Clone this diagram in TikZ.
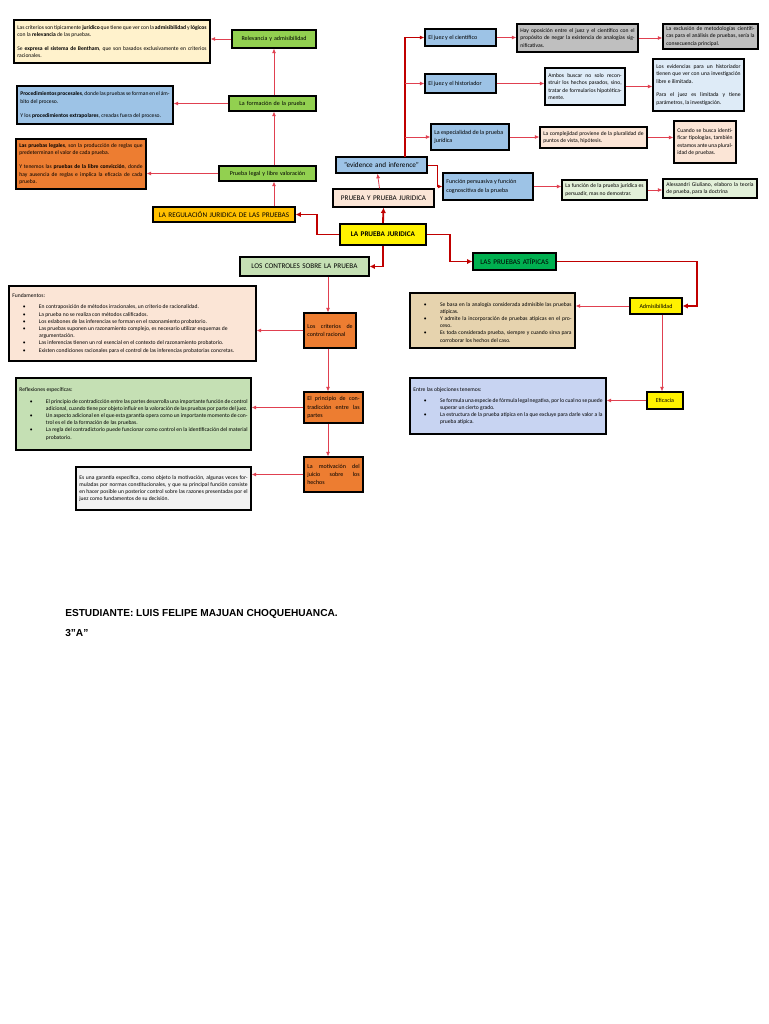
\documentclass[tikz,border=0pt]{standalone}
\usepackage{fontspec}
\setmainfont{Carlito}
\newfontfamily\arialf{Liberation Sans}
\usetikzlibrary{arrows.meta}
\definecolor{lred}{HTML}{E04050}
\definecolor{dred}{HTML}{C00000}
\definecolor{cream}{HTML}{FFF2CC}
\definecolor{gr}{HTML}{92D050}
\definecolor{bl}{HTML}{9DC3E6}
\definecolor{lbl}{HTML}{DEEBF7}
\definecolor{org}{HTML}{ED7D31}
\definecolor{gold}{HTML}{FFC000}
\definecolor{peach}{HTML}{FBE5D6}
\definecolor{lgr}{HTML}{C5E0B4}
\definecolor{vlgr}{HTML}{E2F0D9}
\definecolor{dgr}{HTML}{00B050}
\definecolor{gry}{HTML}{BFBFBF}
\definecolor{wgry}{HTML}{F2F2F2}
\definecolor{parch}{HTML}{E6D3AE}
\definecolor{lila}{HTML}{C8D4F2}
\newcommand\bx[7]{\pgfmathsetmacro\bw{(#4-#2)*0.75}\pgfmathsetmacro\bh{(#5-#3)*0.75}\pgfmathsetmacro\tw{(#4-#2)*0.75-5}%
\node[#6,minimum width=\bw pt,minimum height=\bh pt,text width=\tw pt] (#1) at ({(#2+#4)/2},{(#3+#5)/2}) {#7};}
\newcommand\itm[1]{\par{\leftskip=20pt\noindent\llap{\textbullet\hspace{10pt}}#1\par}}
\tikzset{
 bbox/.style={draw,line width=0.8pt,inner xsep=2.5pt,inner ysep=1pt,font=\fontsize{4.2}{5.4}\selectfont,align=justify},
 lbl/.style={draw,line width=0.8pt,inner xsep=2.5pt,inner ysep=1pt,font=\fontsize{4.5}{6.2}\selectfont,align=center},
 big/.style={draw,line width=0.9pt,inner xsep=2.5pt,inner ysep=1pt,font=\fontsize{5.4}{6.5}\selectfont,align=center},
 thin/.style={lred,line width=0.6pt,-{Latex[length=3.5pt,width=3pt]}},
 thick/.style={dred,line width=1.4pt,-{Latex[length=4pt,width=4pt]}},
}
\begin{document}
\begin{tikzpicture}[x=0.75pt,y=-0.75pt]
\useasboundingbox[fill=white] (0,0) rectangle (768,1024);
% left column top
\bx{A}{14}{20}{210}{63}{bbox,fill=cream}{Las criterios son típicamente \textbf{jurídico} que tiene que ver con la \textbf{admisibilidad} y \textbf{lógicos} con la \textbf{relevancia} de las pruebas.\par\vspace{5pt}Se \textbf{expresa el sistema de Bentham}, que son basados exclusivamente en criterios racionales.}
\bx{rel}{232}{30}{316}{48}{lbl,fill=gr}{Relevancia y admisibilidad}
\bx{B}{17}{86}{173}{124}{bbox,fill=bl}{\textbf{Procedimientos procesales}, donde las pruebas se forman en el ámbito del proceso.\par\vspace{5pt}Y los \textbf{procedimientos extrapolares}, creadas fuera del proceso.}
\bx{form}{229}{96}{316}{111}{lbl,fill=gr}{La formación de la prueba}
\bx{C}{16}{139}{146}{189}{bbox,fill=org}{\textbf{Las pruebas legales}, son la producción de reglas que predeterminan el valor de cada prueba.\par\vspace{5pt}Y tenemos las \textbf{pruebas de la libre convicción}, donde hay ausencia de reglas e implica la eficacia de cada prueba.}
\bx{leg}{219}{166}{316}{181}{lbl,fill=gr}{Prueba legal y libre valoración}
\bx{reg}{153}{207}{295}{222}{big,fill=gold}{LA REGULACIÓN JURIDICA DE LAS PRUEBAS}
% center
\bx{pyp}{333}{189}{434}{207}{big,fill=peach}{PRUEBA Y PRUEBA JURIDICA}
\bx{evi}{336}{157}{427}{173}{big,fill=bl}{"evidence and inference"}
\bx{pj}{340}{224}{426}{245}{big,fill=yellow,line width=1.6pt}{\textbf{LA PRUEBA JURIDICA}}
\bx{ctl}{240}{257}{369}{276}{big,fill=lgr}{LOS CONTROLES SOBRE LA PRUEBA}
\bx{ati}{473}{253}{556}{270}{big,fill=dgr}{LAS PRUEBAS ATÍPICAS}
% right top
\bx{jc}{425}{29}{496}{46}{lbl,fill=bl,align=flush left}{El juez y el científico}
\bx{jc2}{517}{24}{638}{52}{bbox,fill=gry}{Hay oposición entre el juez y el científico con el propósito de negar la existencia de analogías significativas.}
\bx{jc3}{663}{24}{758}{49}{bbox,fill=gry}{La exclusión de metodologías científicas para el análisis de pruebas, sería la consecuencia principal.}
\bx{jh}{425}{74}{496}{93}{lbl,fill=bl,align=flush left}{El juez y el historiador}
\bx{jh2}{545}{68}{625}{105}{bbox,fill=lbl}{Ambos buscar no solo reconstruir los hechos pasados, sino, tratar de formularios hipotéticamente.}
\bx{jh3}{653}{59}{744}{111}{bbox,fill=lbl}{Los evidencias para un historiador tienen que ver con una investigación libre e ilimitada.\par\vspace{5pt}Para el juez es limitada y tiene parámetros, la investigación.}
\bx{es}{431}{124}{509}{150}{lbl,fill=bl,align=flush left}{La especialidad de la prueba jurídica}
\bx{es2}{540}{127}{647}{148}{bbox,fill=peach}{La complejidad proviene de la pluralidad de puntos de vista, hipótesis.}
\bx{es3}{674}{121}{736}{163}{bbox,fill=peach}{Cuando se busca identificar tipologías, también estamos ante una pluralidad de pruebas.}
\bx{fp}{443}{173}{533}{200}{lbl,fill=bl,align=flush left}{Función persuasiva y función cognoscitiva de la prueba}
\bx{fp2}{562}{180}{647}{200}{bbox,fill=vlgr}{La función de la prueba jurídica es persuadir, mas no demostrar.}
\bx{fp3}{663}{179}{757}{198}{bbox,fill=vlgr}{Alessandri Giuliano, elaboro la teoría de prueba, para la doctrina}
% controls
\bx{fun}{9}{286}{256}{361}{bbox,fill=peach,align=flush left}{Fundamentos:\par\vspace{3pt}
\itm{En contraposición de métodos irracionales, un criterio de racionalidad.}
\itm{La prueba no se realiza con métodos calificados.}
\itm{Los eslabones de las inferencias se forman en el razonamiento probatorio.}
\itm{Las pruebas suponen un razonamiento complejo, es necesario utilizar esquemas de argumentación.}
\itm{Las inferencias tienen un rol esencial en el contexto del razonamiento probatorio.}
\itm{Existen condiciones racionales para el control de las inferencias probatorias concretas.}}
\bx{cri}{304}{313}{356}{348}{lbl,fill=org,align=justify}{Los criterios de control racional}
\bx{ref}{16}{378}{251}{450}{bbox,fill=lgr}{Reflexiones específicas:\par\vspace{3pt}
\itm{El principio de contradicción entre las partes desarrolla una importante función de control adicional, cuando tiene por objeto influir en la valoración de las pruebas por parte del juez.}
\itm{Un aspecto adicional en el que esta garantía opera como un importante momento de control es el de la formación de las pruebas.}
\itm{La regla del contradictorio puede funcionar como control en la identificación del material probatorio.}}
\bx{pri}{304}{392}{363}{423}{lbl,fill=org,align=justify}{El principio de contradicción entre las partes}
\bx{gar}{76}{467}{251}{510}{bbox,fill=wgry}{Es una garantía específica, como objeto la motivación, algunas veces formuladas por normas constitucionales, y que su principal función consiste en hacer posible un posterior control sobre las razones presentadas por el juez como fundamentos de su decisión.\par\vspace{4pt}}
\bx{mot}{304}{457}{363}{492}{lbl,fill=org,align=justify}{La motivación del juicio sobre los hechos}
% atipicas
\bx{sb}{410}{293}{575}{348}{bbox,fill=parch}{\itm{Se basa en la analogía considerada admisible las pruebas atípicas.}
\itm{Y admite la incorporación de pruebas atípicas en el proceso.}
\itm{Es toda considerada prueba, siempre y cuando sirva para corroborar los hechos del caso.}}
\bx{adm}{630}{298}{682}{314}{lbl,fill=yellow}{Admisibilidad}
\bx{obj}{410}{378}{606}{434}{bbox,fill=lila}{Entre las objeciones tenemos:\par\vspace{3pt}
\itm{Se formula una especie de fórmula legal negativa, por lo cual no se puede superar un cierto grado.}
\itm{La estructura de la prueba atípica en la que excluye para darle valor a la prueba atípica.}\par\vspace{3pt}}
\bx{efi}{647}{392}{683}{409}{lbl,fill=yellow}{Eficacia}
% bottom text
\node[anchor=west,font=\arialf\bfseries\fontsize{7.6}{9}\selectfont,inner sep=0] (stu) at (65,614) {ESTUDIANTE: LUIS FELIPE MAJUAN CHOQUEHUANCA.};
\node[anchor=west,font=\arialf\bfseries\fontsize{7.6}{9}\selectfont,inner sep=0] (cur) at (65,633) {3”A”};
% connectors left
\draw[thin] (rel.west) -- (rel.west -| A.east);
\draw[thin] (form.west) -- (form.west -| B.east);
\draw[thin] (leg.west) -- (leg.west -| C.east);
\coordinate (vx) at (274,0);
\draw[thin] (form.north -| vx) -- (rel.south -| vx);
\draw[thin] (leg.north -| vx) -- (form.south -| vx);
\draw[thin] (reg.north -| vx) -- (leg.south -| vx);
% thick from main
\draw[thick] (pj.west) -- ++(-22,0) |- (reg.east);
\draw[thick] (pj.north) -- (pyp.south);
\draw[thick] (pj.south) |- (ctl.east);
\draw[thick] (pj.east) -- (450,234.5) |- (ati.west);
\draw[dred,line width=1.1pt,-{Latex[length=4pt,width=4pt]}] (ati.east) -- (697,261.5) |- (adm.east);
\draw[thin] ([xshift=-3pt]pyp.north) -- ([xshift=-3pt]evi.south);
\coordinate (vt) at (405,37.5);
\draw[dred,line width=0.9pt] (405,157) -- (vt);
\draw[thin,dred] (vt) -- (vt -| jc.west);
\draw[thin] (405,83.5) -- (405,83.5 -| jh.west);
\draw[thin] (405,137) -- (405,137 -| es.west);
\draw[thin,dred] (evi.east) -- (437,165) |- (fp.west);
\draw[thin] (jc.east) -- (jc.east -| jc2.west);
\draw[thin] (jc2.east) -- (jc2.east -| jc3.west);
\draw[thin] (jh.east) -- (jh.east -| jh2.west);
\draw[thin] (jh2.east) -- (jh2.east -| jh3.west);
\draw[thin] (es.east) -- (es.east -| es2.west);
\draw[thin] (es2.east) -- (es2.east -| es3.west);
\draw[thin] (fp.east) -- (fp.east -| fp2.west);
\draw[thin] (fp2.east) -- (fp2.east -| fp3.west);
% controls
\coordinate (cx) at (328,0);
\draw[thin] (ctl.south -| cx) -- (cri.north -| cx);
\draw[thin] (cri.south -| cx) -- (pri.north -| cx);
\draw[thin] (pri.south -| cx) -- (mot.north -| cx);
\draw[thin] (cri.west) -- (cri.west -| fun.east);
\draw[thin] (pri.west) -- (pri.west -| ref.east);
\draw[thin] (mot.west) -- (mot.west -| gar.east);
% atipicas
\coordinate (ax) at (662,0);
\draw[thin] (adm.west) -- (adm.west -| sb.east);
\draw[thin] (adm.south -| ax) -- (efi.north -| ax);
\draw[thin] (efi.west) -- (efi.west -| obj.east);
\end{tikzpicture}
\end{document}
